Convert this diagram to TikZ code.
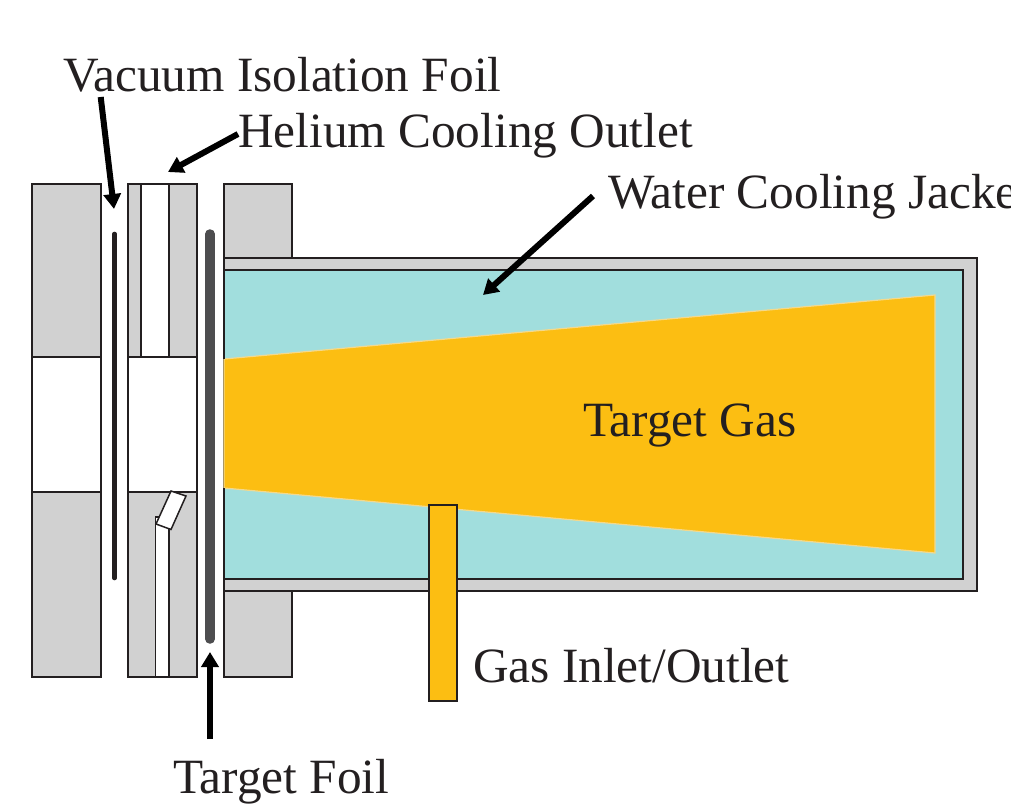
\documentclass[tikz,border=0pt]{standalone}
\usepackage{fontspec}
\setmainfont{Liberation Serif}
\usetikzlibrary{arrows.meta}
\definecolor{blockgrey}{HTML}{D1D1D1}
\definecolor{ink}{HTML}{231F20}
\definecolor{teal}{HTML}{A1DEDD}
\definecolor{gas}{HTML}{FCBE12}
\definecolor{gasedge}{HTML}{F3D98E}
\definecolor{foilgrey}{HTML}{4D4D4F}
\tikzset{
  block/.style={draw=ink,line width=1.5pt,fill=blockgrey},
  blank/.style={draw=ink,line width=1.5pt,fill=white},
  lab/.style={anchor=base west,inner sep=0pt,text=ink,font=\fontsize{49.3}{49.3}\selectfont},
  pointer/.style={line width=6pt,-{Triangle[length=15pt,width=17pt]},black},
}
\begin{document}
\begin{tikzpicture}[x=1pt,y=-1pt]
\clip (0,0) rectangle (1011,810);
\fill[white] (0,0) rectangle (1011,810);
% left flange
\draw[block] (32,184) rectangle (101,357);
\draw[blank] (32,357) rectangle (101,492);
\draw[block] (32,492) rectangle (101,677);
% middle flange
\draw[block] (128,184) rectangle (197,357);
\draw[blank] (141,184) rectangle (169,357);
\draw[blank] (128,357) rectangle (197,492);
\draw[block] (128,492) rectangle (197,677);
\draw[blank] (155.5,517) rectangle (169,677);
\draw[blank] (171,491) -- (186,496) -- (171,529.5) -- (156,524) -- cycle;
% foils
\draw[ink,line width=4.6pt,line cap=round] (114.5,234) -- (114.5,578);
\draw[foilgrey,line width=9.5pt,line cap=round] (210,234) -- (210,639);
% right flange and jacket
\draw[block] (224,184) rectangle (292,258);
\draw[block] (224,591) rectangle (292,677);
\draw[block] (224,258) rectangle (977,591);
\draw[draw=ink,line width=1.2pt,fill=teal] (224,270) rectangle (963,579);
\draw[draw=gasedge,line width=1.2pt,fill=gas] (224,359) -- (935,295) -- (935,553) -- (224,488) -- cycle;
\draw[draw=ink,line width=1.5pt,fill=gas] (429,505) rectangle (457,701);
\draw[ink,line width=2pt] (224,258) -- (224,359) (224,488) -- (224,591);
% labels
\node[lab] (vac) at (63,92) {Vacuum Isolation Foil};
\node[lab] (hel) at (238,148) {Helium Cooling Outlet};
\node[lab] (wat) at (608,209) {Water Cooling Jacket};
\node[lab] (tgas) at (583,436) {Target Gas};
\node[lab] (inl) at (473,682) {Gas Inlet/Outlet};
\node[lab] (tf) at (173,793) {Target Foil};
% arrows
\coordinate (a1s) at (100.7,97);  \coordinate (a1e) at (114,209);
\coordinate (a2s) at (238,134); \coordinate (a2e) at (168,172);
\coordinate (a3s) at (593,196); \coordinate (a3e) at (483,295);
\coordinate (a4s) at (210,739); \coordinate (a4e) at (210,652);
\draw[pointer] (a1s) -- (a1e);
\draw[pointer] (a2s) -- (a2e);
\draw[pointer] (a3s) -- (a3e);
\draw[pointer] (a4s) -- (a4e);
\end{tikzpicture}
\end{document}
